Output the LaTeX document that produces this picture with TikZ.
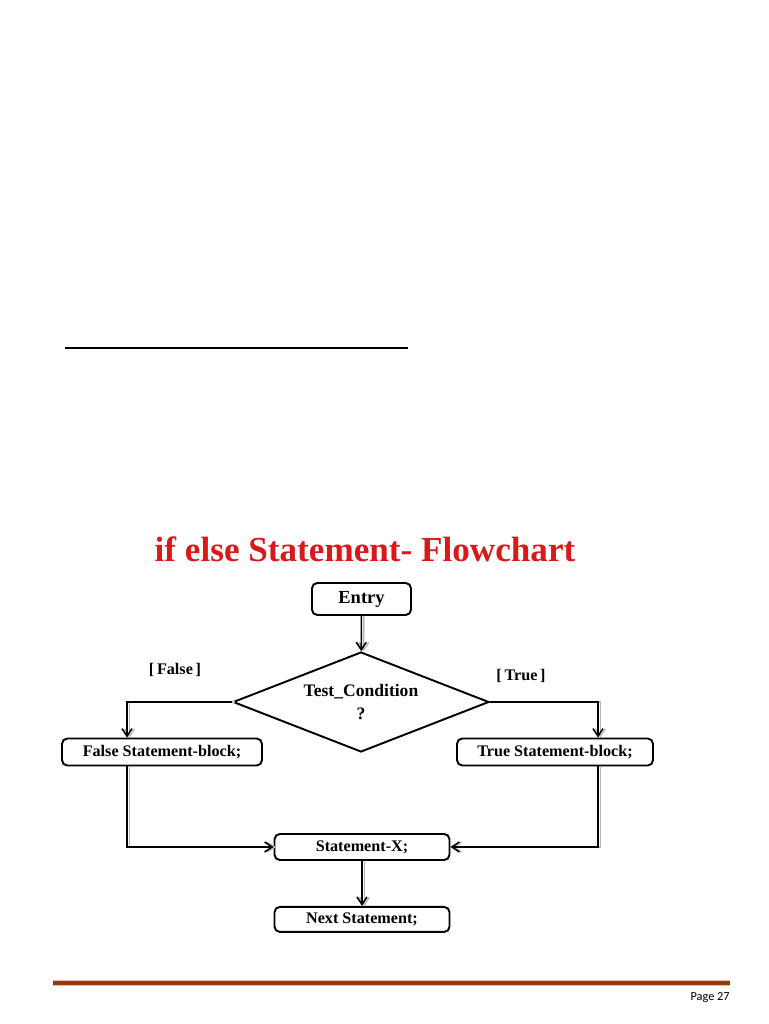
\documentclass[tikz,border=0pt]{standalone}
\usepackage{fontspec}
\setmainfont{Liberation Serif}
\newfontfamily\pagefont{Carlito}
\usepackage{tikz}
\usetikzlibrary{arrows.meta,positioning,shapes.geometric}
\definecolor{TitleRed}{HTML}{D7191C}
\definecolor{RuleBrown}{HTML}{8E3A12}
\definecolor{RuleEdge}{HTML}{E9C0A6}

\begin{document}
\begin{tikzpicture}[
  x=0.02cm,y=-0.02cm,
  box/.style={draw,line width=1.1pt,rounded corners=3pt,inner sep=0pt,align=center,font=\bfseries\fontsize{9.2}{10}\selectfont},
  cond/.style={draw,line width=1.1pt,diamond,aspect=2.56,inner sep=0pt,minimum width=5.12cm,minimum height=2cm,align=center,font=\bfseries\fontsize{10}{13.5}\selectfont},
  conn/.style={line width=0.9pt,-{Straight Barb[length=1.5mm,width=2mm]},
    preaction={draw=gray!55,line width=0.8pt,transform canvas={xshift=1.4pt}}},
  lbl/.style={font=\bfseries\fontsize{9.2}{10}\selectfont},
]
\useasboundingbox (0,0) rectangle (768,1024);

% top rule and title
\draw[line width=1.5pt] (65,348) -- (408,348);
\node[font=\bfseries\fontsize{20}{24}\selectfont,text=TitleRed] (title) at (365,549) {if else Statement- Flowchart};

% flowchart
\node[box,minimum width=1.98cm,minimum height=0.64cm,font=\bfseries\fontsize{10.5}{12}\selectfont] (entry) at (361.5,599) {Entry};
\node[cond] (test) at (361,702) {Test\_Condition\\?};
\node[lbl] (flbl) at (175,670) {[\,False\,]};
\node[lbl] (tlbl) at (521,676) {[\,True\,]};
\node[box,minimum width=4.0cm,minimum height=0.54cm] (fblock) at (162,752) {False Statement-block;};
\node[box,minimum width=3.92cm,minimum height=0.54cm] (tblock) at (555,752) {True Statement-block;};
\node[box,minimum width=3.5cm,minimum height=0.52cm] (stx) at (362,847) {Statement-X;};
\node[box,minimum width=3.5cm,minimum height=0.5cm,below=0.9cm of stx] (next) {Next Statement;};
\coordinate (fx) at (127,702);
\coordinate (tx) at (598,702);

\draw[conn] (entry) -- (test);
\draw[conn] (test.west) -- (fx) -- (fx |- fblock.north);
\draw[conn] (test.east) -- (tx) -- (tx |- tblock.north);
\draw[conn] (fx |- fblock.south) |- (stx.west);
\draw[conn] (tx |- tblock.south) |- (stx.east);
\draw[conn] (stx) -- (next);

% footer
\draw[RuleEdge,line width=3.4pt] (53,983) -- (730,983);
\draw[RuleBrown,line width=2.2pt] (53,983) -- (730,983);
\node[anchor=east,font=\pagefont\fontsize{7}{8}\selectfont,inner sep=0pt] (page) at (730,998) {Page 27};
\end{tikzpicture}
\end{document}
